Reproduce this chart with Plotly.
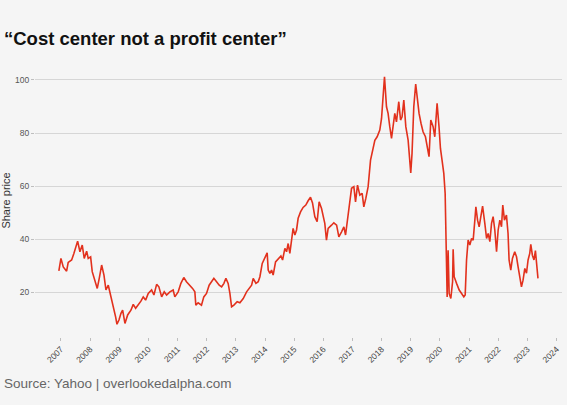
import plotly.graph_objects as go

dates = [
    "2006-12-06", "2007-01-01", "2007-01-30", "2007-03-13", "2007-04-02", "2007-05-15", "2007-06-13",
    "2007-07-29", "2007-08-27", "2007-09-25", "2007-10-20", "2007-11-19", "2007-12-09", "2008-01-08",
    "2008-01-28", "2008-03-02", "2008-03-31", "2008-04-25", "2008-05-25", "2008-06-23", "2008-07-18",
    "2008-08-16", "2008-09-06", "2008-10-05", "2008-10-30", "2008-11-16", "2008-12-03", "2008-12-28",
    "2009-01-22", "2009-02-12", "2009-03-13", "2009-04-16", "2009-05-27", "2009-06-25", "2009-07-25",
    "2009-08-26", "2009-09-29", "2009-10-28", "2009-11-27", "2009-12-30", "2010-02-10", "2010-03-11",
    "2010-04-14", "2010-05-12", "2010-06-16", "2010-07-18", "2010-08-17", "2010-09-27", "2010-11-07",
    "2010-11-28", "2011-01-09", "2011-02-12", "2011-03-20", "2011-04-23", "2011-06-04", "2011-07-08",
    "2011-08-06", "2011-08-18", "2011-09-16", "2011-10-28", "2011-11-26", "2011-12-30", "2012-02-01",
    "2012-03-02", "2012-03-31", "2012-05-04", "2012-06-06", "2012-07-06", "2012-08-04", "2012-08-29",
    "2012-09-26", "2012-10-18", "2012-11-08", "2012-12-07", "2013-01-17", "2013-02-20", "2013-04-03",
    "2013-05-15", "2013-06-17", "2013-07-17", "2013-08-06", "2013-09-09", "2013-10-08", "2013-10-29",
    "2013-11-27", "2013-12-31", "2014-01-28", "2014-02-10", "2014-03-03", "2014-03-24", "2014-04-13",
    "2014-05-13", "2014-06-15", "2014-07-19", "2014-08-09", "2014-09-07", "2014-09-28", "2014-10-18",
    "2014-11-08", "2014-11-30", "2014-12-19", "2015-01-10", "2015-01-31", "2015-02-20", "2015-03-22",
    "2015-04-23", "2015-05-27", "2015-06-25", "2015-07-25", "2015-08-19", "2015-09-17", "2015-10-16",
    "2015-11-10", "2015-12-10", "2015-12-30", "2016-01-20", "2016-02-10", "2016-03-02", "2016-04-13",
    "2016-05-12", "2016-06-16", "2016-07-14", "2016-08-17", "2016-09-15", "2016-10-06", "2016-10-26",
    "2016-11-20", "2016-12-20", "2017-01-18", "2017-02-08", "2017-03-05", "2017-04-03", "2017-05-02",
    "2017-05-23", "2017-06-17", "2017-07-16", "2017-08-15", "2017-09-09", "2017-10-08", "2017-11-06",
    "2017-12-09", "2017-12-31", "2018-01-20", "2018-02-06", "2018-03-03", "2018-03-23", "2018-04-13",
    "2018-05-05", "2018-05-24", "2018-06-15", "2018-07-06", "2018-08-04", "2018-08-26", "2018-09-14",
    "2018-10-06", "2018-10-31", "2018-11-29", "2018-12-19", "2019-01-01", "2019-01-17", "2019-02-08",
    "2019-03-04", "2019-03-21", "2019-04-15", "2019-05-10", "2019-06-04", "2019-07-04", "2019-07-29",
    "2019-08-18", "2019-09-09", "2019-10-08", "2019-10-29", "2019-11-27", "2019-12-21", "2020-01-08",
    "2020-01-28", "2020-02-19", "2020-03-07", "2020-03-15", "2020-03-24", "2020-04-01", "2020-04-13",
    "2020-04-26", "2020-05-17", "2020-06-08", "2020-06-15", "2020-06-28", "2020-07-28", "2020-08-30",
    "2020-09-29", "2020-10-27", "2020-11-13", "2020-11-30", "2020-12-20", "2021-01-10", "2021-02-01",
    "2021-02-21", "2021-03-14", "2021-03-27", "2021-04-17", "2021-05-07", "2021-05-28", "2021-06-19",
    "2021-07-17", "2021-08-08", "2021-08-28", "2021-09-18", "2021-10-09", "2021-10-29", "2021-11-19",
    "2021-12-11", "2021-12-31", "2022-01-21", "2022-02-11", "2022-02-27", "2022-03-20", "2022-04-14",
    "2022-05-04", "2022-05-17", "2022-06-07", "2022-06-28", "2022-07-27", "2022-08-18", "2022-09-07",
    "2022-09-28", "2022-10-19", "2022-11-08", "2022-11-30", "2022-12-21", "2023-01-10", "2023-01-31",
    "2023-02-13", "2023-03-05", "2023-03-25", "2023-04-12", "2023-04-24", "2023-05-14",
]

share_price = [
    28.1, 32.8, 29.6, 28.0, 31.3, 32.2, 34.7,
    39.3, 35.3, 37.8, 32.8, 35.5, 32.8, 33.4,
    27.8, 24.6, 21.5, 25.3, 30.3, 26.5, 20.9,
    22.7, 20.2, 15.9, 13.3, 10.8, 8.0, 9.6,
    12.1, 13.3, 8.3, 11.5, 13.3, 15.5, 14.0,
    15.2, 16.7, 18.3, 17.1, 19.6, 20.9, 19.0,
    23.0, 22.1, 18.3, 20.2, 19.0, 20.2, 20.9,
    18.3, 20.2, 23.4, 25.6, 24.0, 22.7, 21.5,
    20.2, 15.2, 16.1, 15.2, 18.3, 19.6, 22.7,
    24.0, 25.3, 24.0, 22.7, 22.1, 23.4, 25.3,
    23.4, 19.6, 14.6, 15.2, 16.5, 16.1, 17.7,
    20.2, 21.5, 22.7, 25.3, 23.4, 24.0, 25.9,
    30.9, 33.4, 34.9, 28.4, 27.2, 28.4, 26.5,
    31.5, 32.8, 33.7, 32.2, 36.6, 35.3, 38.4,
    34.7, 40.9, 44.1, 41.6, 43.5, 47.9, 50.3,
    52.0, 52.9, 54.5, 55.8, 53.7, 48.5, 46.6,
    54.1, 51.6, 48.5, 46.0, 39.7, 44.1, 45.3,
    46.2, 45.3, 40.9, 42.8, 44.7, 41.6, 46.0,
    52.2, 59.2, 59.8, 54.1, 60.4, 56.6, 57.3,
    52.2, 55.4, 59.8, 69.8, 73.6, 77.3, 78.6,
    81.1, 85.5, 93.6, 101.2, 89.9, 87.4, 82.4,
    78.0, 82.4, 87.4, 84.2, 91.8, 84.9, 86.1,
    92.4, 82.4, 77.3, 71.1, 65.0, 72.3, 89.9,
    98.4, 93.6, 87.4, 83.6, 80.5, 78.6, 74.8,
    71.1, 84.9, 82.4, 78.6, 91.2, 82.4, 74.2,
    69.8, 64.8, 57.3, 42.2, 25.9, 18.3, 35.9,
    19.6, 17.7, 24.0, 36.2, 25.9, 23.4, 20.9,
    19.6, 18.3, 19.0, 32.2, 39.7, 37.8, 40.3,
    39.7, 47.2, 52.2, 47.2, 44.7, 48.5, 52.5,
    46.0, 40.3, 42.2, 39.1, 46.0, 48.5, 43.5,
    35.3, 43.5, 47.2, 44.7, 52.9, 47.2, 49.1,
    42.2, 32.2, 28.4, 32.8, 35.3, 33.4, 29.6,
    26.5, 22.1, 24.6, 29.0, 27.2, 32.2, 34.7,
    38.1, 34.0, 32.2, 35.7, 30.3, 25.3,
]

year_ticks = [f"{y}-01-01" for y in range(2007, 2025)]
year_labels = [str(y) for y in range(2007, 2025)]

title_text = "\u201cCost center not a profit center\u201d"
source_text = "Source: Yahoo | overlookedalpha.com"
y_title = "Share price"

BG = "#F5F5F5"
LINE = "#E2311D"

fig = go.Figure()
fig.add_trace(go.Scatter(
    x=dates, y=share_price, mode="lines",
    line=dict(color=LINE, width=1.6),
    hoverinfo="skip", showlegend=False,
))

fig.update_layout(
    width=567, height=405,
    paper_bgcolor=BG, plot_bgcolor=BG,
    margin=dict(l=35, r=5, t=64, b=68),
    font=dict(family="Liberation Sans, Arial, sans-serif", color="#444"),
    title=dict(
        text=title_text,
        font=dict(family="Liberation Sans, Arial, sans-serif", size=18.5, color="#111", weight="bold"),
        xref="container", yref="container",
        x=4 / 567, xanchor="left", y=1 - 39 / 405, yanchor="middle",
    ),
    xaxis=dict(
        type="date",
        range=["2006-02-10", "2024-03-10"],
        tickmode="array", tickvals=year_ticks, ticktext=year_labels,
        tickangle=-45,
        tickfont=dict(size=8.5, color="#444"),
        ticks="outside", ticklen=3, tickcolor="#999", tickwidth=0.6,
        showgrid=False, zeroline=False, showline=False,
        automargin=False,
    ),
    yaxis=dict(
        range=[3.2, 106.0],
        tickvals=[20, 40, 60, 80, 100],
        tickfont=dict(size=8.5, color="#555"),
        ticks="outside", ticklen=3, tickcolor="#999", tickwidth=0.6,
        showgrid=True, gridcolor="#D6D6D6", gridwidth=1,
        zeroline=False, showline=False,
        title=dict(text=y_title, font=dict(size=11, color="#333"), standoff=3),
        automargin=False,
    ),
    annotations=[
        dict(
            text=source_text, xref="paper", yref="paper",
            x=(2 - 35) / 527, y=-(383 - 337) / 273,
            xanchor="left", yanchor="middle", showarrow=False,
            font=dict(size=13.5, color="#666"),
        )
    ],
)

fig.write_html(
    "out.html",
    config={"displayModeBar": False, "staticPlot": True},
    post_script="document.body.style.margin='0';document.body.style.padding='0';document.body.style.overflow='hidden';",
)
